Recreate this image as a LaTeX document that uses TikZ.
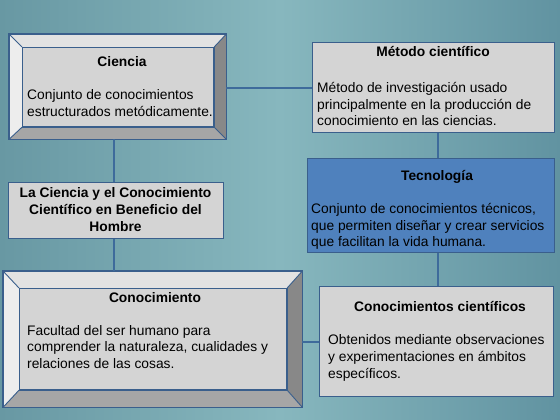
\documentclass[tikz,border=0pt]{standalone}
\usepackage{fontspec}
\setmainfont{Liberation Sans}
\definecolor{bgL}{HTML}{6898A3}
\definecolor{bgM}{HTML}{87B7BE}
\definecolor{bgR}{HTML}{6193A1}
\definecolor{edgec}{HTML}{3A5F8C}
\definecolor{wirec}{HTML}{3E6B9B}
\definecolor{facec}{HTML}{D4D4D4}
\definecolor{techc}{HTML}{4F81BD}
\definecolor{topf}{HTML}{E2E2E2}
\definecolor{leftf}{HTML}{EDEDED}
\definecolor{rightf}{HTML}{888888}
\definecolor{botf}{HTML}{A6A6A6}
\tikzset{
  panel/.style={draw=edgec, line width=1.2pt, fill=facec, inner sep=0pt, anchor=north west},
  frame/.style={inner sep=0pt, anchor=north west},
  ttl/.style={font=\bfseries\fontsize{13.8}{16.6}\selectfont, inner sep=0pt, align=center},
  body/.style={font=\fontsize{13.8}{16.6}\selectfont, align=left, inner sep=0pt, anchor=west},
  wire/.style={draw=wirec, line width=2pt},
  bevline/.style={draw=edgec, line width=0.9pt},
}
\newcommand{\bevelfaces}[2]{%
  \fill[topf] (#1.north west) -- (#1.north east) -- (#2.north east) -- (#2.north west) -- cycle;
  \fill[leftf] (#1.north west) -- (#2.north west) -- (#2.south west) -- (#1.south west) -- cycle;
  \fill[rightf] (#1.north east) -- (#1.south east) -- (#2.south east) -- (#2.north east) -- cycle;
  \fill[botf] (#1.south west) -- (#1.south east) -- (#2.south east) -- (#2.south west) -- cycle;
  \draw[bevline] (#1.north west) -- (#2.north west) (#1.north east) -- (#2.north east)
     (#1.south west) -- (#2.south west) (#1.south east) -- (#2.south east);
  \draw[edgec, line width=1.2pt] (#1.north west) rectangle (#1.south east);
}
\begin{document}
\begin{tikzpicture}[x=1pt,y=-1pt]
\useasboundingbox (0,0) rectangle (560,420);
\shade[left color=bgL, right color=bgR, middle color=bgM] (0,0) rectangle (560,420);

% Ciencia (bevel)
\node[frame, minimum width=217pt, minimum height=105pt] (ciencia) at (9,34) {};
\node[panel, minimum width=191pt, minimum height=79pt] (cienciaIn) at (22,47) {};
\bevelfaces{ciencia}{cienciaIn}
\draw[bevline] (cienciaIn.north west) rectangle (cienciaIn.south east);

% La Ciencia y el Conocimiento
\node[panel, minimum width=215pt, minimum height=56pt] (laciencia) at (8,182) {};

% Metodo cientifico
\node[panel, minimum width=242pt, minimum height=90pt] (metodo) at (312,42) {};

% Tecnologia
\node[panel, fill=techc, minimum width=247pt, minimum height=94pt] (tecno) at (307,158) {};

% Conocimiento (bevel)
\node[frame, minimum width=299pt, minimum height=136pt] (conoc) at (3,271) {};
\node[panel, minimum width=267pt, minimum height=101pt] (conocIn) at (19,288) {};
\bevelfaces{conoc}{conocIn}
\draw[bevline] (conocIn.north west) rectangle (conocIn.south east);

% Conocimientos cientificos
\node[panel, minimum width=234pt, minimum height=110pt] (concient) at (319,286) {};

% connectors
\draw[wire] (metodo.west) -- (metodo.west -| ciencia.east);
\draw[wire] ([xshift=-2.5pt]laciencia.north) -- ([xshift=-2.5pt]laciencia.north |- ciencia.south);
\draw[wire] ([xshift=-2.5pt]laciencia.south) -- ([xshift=-2.5pt]laciencia.south |- conoc.north);
\draw[wire] ([xshift=4pt]metodo.south) -- ([xshift=4pt]metodo.south |- tecno.north);
\draw[wire] ([xshift=6.5pt]tecno.south) -- ([xshift=6.5pt]tecno.south |- concient.north);
\draw[wire] (concient.west) -- (concient.west -| conoc.east);

% texts
\node[ttl] (cienciaT) at (122,62) {Ciencia};
\node[body] (cienciaB) at (27,103) {Conjunto de conocimientos\\estructurados metódicamente.};

\node[ttl] (lacienciaT) at (115.5,209.5) {La Ciencia y el Conocimiento\\Científico en Beneficio del\\Hombre};

\node[ttl] (metodoT) at (433,52) {Método científico};
\node[body] (metodoB) at (317,104) {Método de investigación usado\\principalmente en la producción de\\conocimiento en las ciencias.};

\node[ttl] (tecnoT) at (437,177) {Tecnología};
\node[body] (tecnoB) at (311,226.5) {Conjunto de conocimientos técnicos,\\que permiten diseñar y crear servicios\\que facilitan la vida humana.};

\node[ttl] (conocT) at (155,298) {Conocimiento};
\node[body] (conocB) at (27,347) {Facultad del ser humano para\\comprender la naturaleza, cualidades y\\relaciones de las cosas.};

\node[ttl] (concientT) at (440,307) {Conocimientos científicos};
\node[body] (concientB) at (328,358) {Obtenidos mediante observaciones\\y experimentaciones en ámbitos\\específicos.};
\end{tikzpicture}
\end{document}
